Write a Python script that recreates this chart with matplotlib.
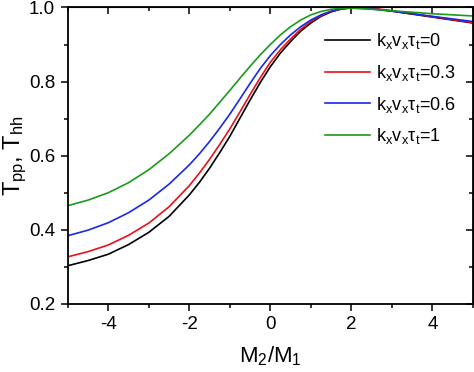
import matplotlib
matplotlib.use("Agg")
import matplotlib.pyplot as plt
from matplotlib.ticker import MultipleLocator, FormatStrFormatter

plt.rcParams['font.family'] = ['Liberation Sans', 'DejaVu Sans']
plt.rcParams['mathtext.fontset'] = 'custom'
plt.rcParams['mathtext.rm'] = 'Liberation Sans'
plt.rcParams['mathtext.it'] = 'Liberation Sans'
plt.rcParams['mathtext.bf'] = 'Liberation Sans:bold'
plt.rcParams['axes.unicode_minus'] = False

x = [-5, -4.5, -4, -3.5, -3, -2.5, -2, -1.75, -1.5, -1.25, -1, -0.75, -0.5, -0.25,
     0, 0.25, 0.5, 0.75, 1, 1.25, 1.5, 1.75, 2, 2.5, 3, 3.5, 4, 4.5, 5]
t_k0 = [0.303, 0.317, 0.334, 0.360, 0.393, 0.436, 0.494, 0.528, 0.566, 0.608, 0.652, 0.701, 0.750, 0.797,
        0.840, 0.877, 0.908, 0.936, 0.958, 0.976, 0.988, 0.996, 0.999, 0.997, 0.990, 0.982, 0.974, 0.966, 0.958]
t_k03 = [0.327, 0.341, 0.359, 0.385, 0.418, 0.462, 0.519, 0.553, 0.590, 0.630, 0.672, 0.718, 0.765, 0.810,
         0.852, 0.886, 0.915, 0.941, 0.962, 0.978, 0.989, 0.996, 0.999, 0.998, 0.991, 0.983, 0.975, 0.967, 0.959]
t_k06 = [0.384, 0.399, 0.419, 0.446, 0.480, 0.523, 0.575, 0.605, 0.638, 0.674, 0.712, 0.753, 0.795, 0.835,
         0.870, 0.900, 0.926, 0.948, 0.966, 0.980, 0.990, 0.996, 0.999, 0.996, 0.990, 0.983, 0.976, 0.969, 0.962]
t_k1 = [0.465, 0.480, 0.500, 0.527, 0.562, 0.605, 0.655, 0.683, 0.712, 0.744, 0.776, 0.809, 0.841, 0.872,
        0.900, 0.926, 0.948, 0.966, 0.980, 0.989, 0.995, 0.998, 0.998, 0.995, 0.991, 0.987, 0.983, 0.980, 0.977]

series = [t_k0, t_k03, t_k06, t_k1]
kvt = r'k$_\mathregular{x}$v$_\mathregular{x}$$\mathregular{\tau}_\mathregular{t}$'
labels = [kvt + '=0', kvt + '=0.3', kvt + '=0.6', kvt + '=1']
colors = ['#000000', '#e8101a', '#1a28e8', '#1a9a1a']

fig = plt.figure(figsize=(4.74, 3.72), dpi=100)
ax = fig.add_axes([0.1428, 0.183, 0.855, 0.797])

for ys, lab, c in zip(series, labels, colors):
    ax.plot(x, ys, color=c, lw=1.2, label=lab)

ax.set_xlim(-5, 5)
ax.set_ylim(0.2, 1.0)
ax.xaxis.set_major_locator(MultipleLocator(2))
ax.xaxis.set_minor_locator(MultipleLocator(1))
ax.yaxis.set_major_locator(MultipleLocator(0.2))
ax.yaxis.set_minor_locator(MultipleLocator(0.1))
ax.yaxis.set_major_formatter(FormatStrFormatter('%.1f'))
ax.tick_params(which='both', direction='out', top=False, right=False, labelsize=13.5, width=1.1, pad=4)
ax.tick_params(which='major', length=5)
ax.tick_params(which='minor', length=3)

# mirrored inward ticks on top and right
secx = ax.secondary_xaxis('top')
secx.xaxis.set_major_locator(MultipleLocator(2))
secx.xaxis.set_minor_locator(MultipleLocator(1))
secx.tick_params(which='both', direction='in', labeltop=False, width=1.1)
secx.tick_params(which='major', length=5)
secx.tick_params(which='minor', length=3)
secy = ax.secondary_yaxis('right')
secy.yaxis.set_major_locator(MultipleLocator(0.2))
secy.yaxis.set_minor_locator(MultipleLocator(0.1))
secy.tick_params(which='both', direction='in', labelright=False, width=1.1)
secy.tick_params(which='major', length=5)
secy.tick_params(which='minor', length=3)

for sp in ax.spines.values():
    sp.set_linewidth(1.3)

ax.set_xlabel(r'M$_\mathregular{2}$/M$_\mathregular{1}$', fontsize=16, labelpad=8)
ax.set_ylabel(r'T$_\mathregular{pp}$, T$_\mathregular{hh}$', fontsize=17)
ax.yaxis.set_label_coords(-0.095, 0.5)

leg = ax.legend(loc='upper left', bbox_to_anchor=(0.635, 0.92), frameon=False, fontsize=13,
                handlelength=2.5, handletextpad=0.35, labelspacing=0.65,
                borderpad=0.0, borderaxespad=0.0)

fig.savefig('out.png', dpi=100)
